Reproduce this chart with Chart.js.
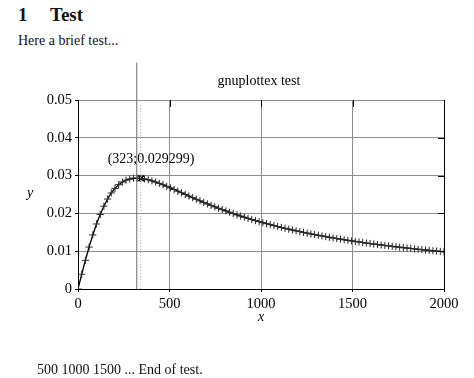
<!DOCTYPE html>
<html><head><meta charset="utf-8">
<script src="https://cdn.jsdelivr.net/npm/chart.js@4.4.1/dist/chart.umd.min.js"></script>
<style>
html,body{margin:0;padding:0;background:#fff;width:474px;height:378px;overflow:hidden;}
.t{position:absolute;font-family:"Liberation Serif","Times New Roman",serif;color:#111;white-space:nowrap;line-height:normal;}
#c{position:absolute;left:0;top:0;}
</style></head><body>
<div class="t" style="left:18px;top:4px;font-size:19px;font-weight:bold;">1</div>
<div class="t" style="left:50px;top:4px;font-size:19px;font-weight:bold;">Test</div>
<div class="t" style="left:18px;top:33px;font-size:14px;">Here a brief test...</div>
<canvas id="c" width="474" height="378"></canvas>
<div class="t" style="left:37px;top:362px;font-size:14px;">500 1000 1500 ... End of test.</div>
<script>
// ---- data ----
const xValues = [0,20.2,40.4,60.6,80.8,101.0,121.2,141.4,161.6,181.8,202.0,222.2,242.4,262.6,282.8,303.0,323.2,343.4,363.6,383.8,404.0,424.2,444.4,464.6,484.8,505.1,525.3,545.5,565.7,585.9,606.1,626.3,646.5,666.7,686.9,707.1,727.3,747.5,767.7,787.9,808.1,828.3,848.5,868.7,888.9,909.1,929.3,949.5,969.7,989.9,1010.1,1030.3,1050.5,1070.7,1090.9,1111.1,1131.3,1151.5,1171.7,1191.9,1212.1,1232.3,1252.5,1272.7,1292.9,1313.1,1333.3,1353.5,1373.7,1393.9,1414.1,1434.3,1454.5,1474.7,1494.9,1515.2,1535.4,1555.6,1575.8,1596.0,1616.2,1636.4,1656.6,1676.8,1697.0,1717.2,1737.4,1757.6,1777.8,1798.0,1818.2,1838.4,1858.6,1878.8,1899.0,1919.2,1939.4,1959.6,1979.8,2000];
const yValues = [0,0.0039,0.0076,0.0111,0.0143,0.0172,0.0197,0.0219,0.0238,0.0254,0.0266,0.0276,0.0283,0.0288,0.0291,0.0293,0.029299,0.02925,0.02911,0.02890,0.02862,0.02830,0.02795,0.02757,0.02716,0.02675,0.02632,0.02589,0.02546,0.02502,0.02459,0.02416,0.02374,0.02332,0.02291,0.02251,0.02212,0.02174,0.02136,0.02100,0.02064,0.02029,0.01995,0.01962,0.01930,0.01899,0.01869,0.01839,0.01810,0.01782,0.01755,0.01728,0.01702,0.01677,0.01653,0.01629,0.01605,0.01583,0.01561,0.01539,0.01518,0.01498,0.01478,0.01458,0.01439,0.01421,0.01403,0.01385,0.01368,0.01351,0.01335,0.01319,0.01303,0.01288,0.01273,0.01258,0.01244,0.01230,0.01216,0.01203,0.01189,0.01177,0.01164,0.01152,0.01140,0.01128,0.01116,0.01105,0.01094,0.01083,0.01072,0.01062,0.01051,0.01041,0.01032,0.01022,0.01012,0.01003,0.00994,0.00985];
const xTicks = [0,500,1000,1500,2000];
const yTicks = [0,0.01,0.02,0.03,0.04,0.05];
const peakMarker = [345, 0.029299];
const peakLabel = "(323;0.029299)";
const peakLabelAt = [399, 0.0333];
const solidLine = [321, 0, 0.0599];
const dottedLine = [342, 0, 0.0487];
const chartTitle = "gnuplottex test";

const FONT = '"Liberation Serif","Times New Roman",serif';
Chart.defaults.color = '#000';
Chart.defaults.font.family = FONT;

const curve = xValues.map((x,i)=>({x:x,y:yValues[i]}));

const textPlugin = {
  id:'texts',
  afterDraw(chart){
    const ctx = chart.ctx, a = chart.chartArea;
    const xs = chart.scales.x, ys = chart.scales.y;
    ctx.save();
    // mirrored inward ticks on top and right borders
    ctx.strokeStyle = '#000'; ctx.lineWidth = 1;
    ctx.beginPath();
    xTicks.slice(1,-1).forEach(v=>{const p=Math.round(xs.getPixelForValue(v))+0.5; ctx.moveTo(p,a.top); ctx.lineTo(p,a.top+7);});
    yTicks.slice(1,-1).forEach(v=>{const p=Math.round(ys.getPixelForValue(v))+0.5; ctx.moveTo(a.right,p); ctx.lineTo(a.right-6,p);});
    ctx.stroke();
    ctx.fillStyle = '#000';
    ctx.textAlign = 'center'; ctx.textBaseline = 'alphabetic';
    ctx.font = '14px ' + FONT;
    ctx.fillText(chartTitle, (a.left+a.right)/2 - 2, 85);
    ctx.fillText(peakLabel, xs.getPixelForValue(peakLabelAt[0]), ys.getPixelForValue(peakLabelAt[1]));
    ctx.font = 'italic 14px ' + FONT;
    ctx.fillText('x', (a.left+a.right)/2, 321);
    ctx.fillText('y', 30, 197);
    ctx.restore();
  }
};

new Chart(document.getElementById('c'), {
  type:'scatter',
  data:{datasets:[
    {data:[{x:solidLine[0],y:solidLine[1]},{x:solidLine[0],y:solidLine[2]}], showLine:true, borderColor:'#6e6e6e', borderWidth:1, pointRadius:0, clip:false},
    {data:[{x:dottedLine[0],y:dottedLine[1]},{x:dottedLine[0],y:dottedLine[2]}], showLine:true, borderColor:'#b5b5b5', borderWidth:1, borderDash:[1,2], pointRadius:0},
    {data:curve, showLine:true, borderColor:'#000', borderWidth:1.3, tension:0, pointStyle:'cross', pointRadius:3.6, pointBorderColor:'#2a2a2a', pointBorderWidth:1, pointBackgroundColor:'#2a2a2a'},
    {data:[{x:peakMarker[0],y:peakMarker[1]}], pointStyle:'crossRot', pointRadius:4, pointBorderColor:'#000', pointBorderWidth:1.6}
  ]},
  options:{
    responsive:false, animation:false, devicePixelRatio:1,
    layout:{padding:{top:100,right:30,bottom:0,left:0}},
    plugins:{legend:{display:false}, tooltip:{enabled:false}, title:{display:false}},
    scales:{
      x:{type:'linear', min:0, max:2000,
        afterBuildTicks(s){ s.ticks = xTicks.map(v=>({value:v})); },
        afterFit(s){ s.height = 89; },
        ticks:{callback:v=>String(v), font:{size:14.5}, padding:3, maxRotation:0, autoSkip:false, color:'#000'},
        grid:{color:c=>(c.tick && c.tick.value===2000)?'#000':'#8c8c8c', lineWidth:1, tickColor:'#000', tickLength:3},
        border:{color:'#000', width:1}
      },
      y:{type:'linear', min:0, max:0.05,
        afterBuildTicks(s){ s.ticks = yTicks.map(v=>({value:v})); },
        afterFit(s){ s.width = 78; },
        ticks:{callback:v=>v===0?'0':v.toFixed(2), font:{size:14.5}, padding:3, autoSkip:false, color:'#000'},
        grid:{color:'#8c8c8c', lineWidth:1, tickColor:'#000', tickLength:3},
        border:{color:'#000', width:1}
      }
    }
  },
  plugins:[textPlugin]
});
</script>
</body></html>
